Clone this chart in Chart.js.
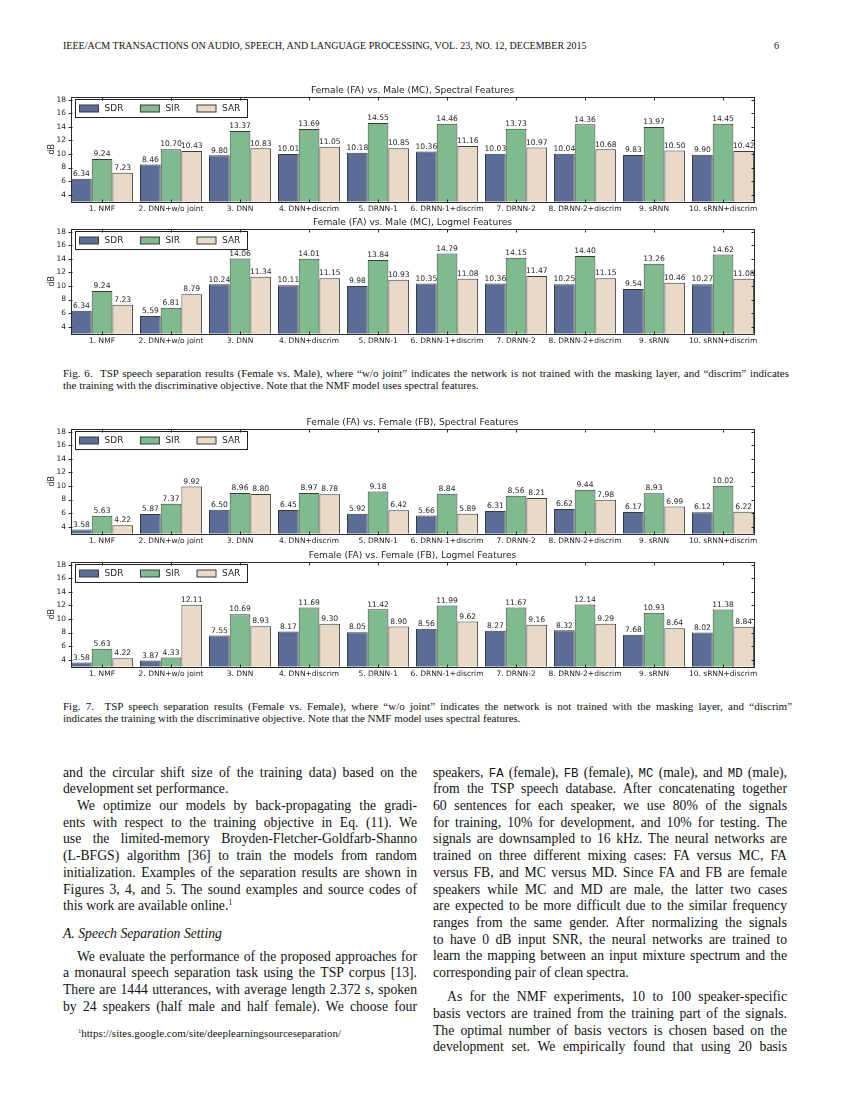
<!DOCTYPE html>
<html><head><meta charset="utf-8">
<script src="https://cdn.jsdelivr.net/npm/chart.js@4.4.0/dist/chart.umd.min.js"></script>
<style>
html,body{margin:0;padding:0;background:#fff;}
body{width:850px;height:1100px;position:relative;overflow:hidden;font-family:"Liberation Serif","Times New Roman",serif;color:#111;}
canvas.cv{position:absolute;left:30px;}
.ln{position:absolute;white-space:nowrap;line-height:16.7px;font-size:13.7px;}
.cap{position:absolute;white-space:nowrap;line-height:12px;font-size:11px;}
.mono{font-family:"Liberation Mono","DejaVu Sans Mono",monospace;font-size:12.4px;}
sup{font-size:0.6em;line-height:0;vertical-align:0.6em;}
</style>
</head><body>

<div id="hdr" style="position:absolute;left:63px;top:40px;font-size:8.4px;line-height:12px;white-space:nowrap;"><span>IEEE/ACM TRANSACTIONS ON AUDIO, SPEECH, AND LANGUAGE PROCESSING, VOL. 23, NO. 12, DECEMBER 2015</span></div>
<div style="position:absolute;left:774px;top:40px;font-size:10px;line-height:12px;">6</div>

<canvas id="c1" class="cv" width="740" height="131" style="top:85.3px"></canvas>
<canvas id="c2" class="cv" width="740" height="131" style="top:217.3px"></canvas>
<div class="cap j" data-w="724" style="left:63px;top:367px;"><span>Fig. 6.&nbsp;&nbsp;TSP speech separation results (Female vs. Male), where “w/o joint” indicates the network is not trained with the masking layer, and “discrim” indicates</span></div>
<div class="cap" style="left:63px;top:379px;"><span>the training with the discriminative objective. Note that the NMF model uses spectral features.</span></div>

<canvas id="c3" class="cv" width="740" height="131" style="top:417.3px"></canvas>
<canvas id="c4" class="cv" width="740" height="131" style="top:550.4px"></canvas>
<div class="cap j" data-w="724" style="left:63px;top:700px;"><span>Fig. 7.&nbsp;&nbsp;TSP speech separation results (Female vs. Female), where “w/o joint” indicates the network is not trained with the masking layer, and “discrim”</span></div>
<div class="cap" style="left:63px;top:712px;"><span>indicates the training with the discriminative objective. Note that the NMF model uses spectral features.</span></div>

<!-- left column -->
<div class="ln j" data-w="354" style="left:63px;top:764.6px;"><span>and the circular shift size of the training data) based on the</span></div>
<div class="ln" style="left:63px;top:781.3px;"><span>development set performance.</span></div>
<div class="ln j" data-w="340" style="left:77px;top:798px;"><span>We optimize our models by back-propagating the gradi-</span></div>
<div class="ln j" data-w="354" style="left:63px;top:814.7px;"><span>ents with respect to the training objective in Eq. (11). We</span></div>
<div class="ln j" data-w="354" style="left:63px;top:831.4px;"><span>use the limited-memory Broyden-Fletcher-Goldfarb-Shanno</span></div>
<div class="ln j" data-w="354" style="left:63px;top:848.1px;"><span>(L-BFGS) algorithm [36] to train the models from random</span></div>
<div class="ln j" data-w="354" style="left:63px;top:864.8px;"><span>initialization. Examples of the separation results are shown in</span></div>
<div class="ln j" data-w="354" style="left:63px;top:881.5px;"><span>Figures 3, 4, and 5. The sound examples and source codes of</span></div>
<div class="ln" style="left:63px;top:898.2px;"><span>this work are available online.<sup>1</sup></span></div>
<div class="ln" style="left:63px;top:925.6px;"><span><i>A. Speech Separation Setting</i></span></div>
<div class="ln j" data-w="340" style="left:77px;top:948.6px;"><span>We evaluate the performance of the proposed approaches for</span></div>
<div class="ln j" data-w="354" style="left:63px;top:965.3px;"><span>a monaural speech separation task using the TSP corpus [13].</span></div>
<div class="ln j" data-w="354" style="left:63px;top:982px;"><span>There are 1444 utterances, with average length 2.372 s, spoken</span></div>
<div class="ln j" data-w="354" style="left:63px;top:998.7px;"><span>by 24 speakers (half male and half female). We choose four</span></div>
<div class="cap" style="left:78px;top:1027px;font-size:11px;"><span><sup>1</sup>https://sites.google.com/site/deeplearningsourceseparation/</span></div>

<!-- right column -->
<div class="ln j" data-w="354" style="left:433px;top:764.6px;"><span>speakers, <span class="mono">FA</span> (female), <span class="mono">FB</span> (female), <span class="mono">MC</span> (male), and <span class="mono">MD</span> (male),</span></div>
<div class="ln j" data-w="354" style="left:433px;top:781.3px;"><span>from the TSP speech database. After concatenating together</span></div>
<div class="ln j" data-w="354" style="left:433px;top:798px;"><span>60 sentences for each speaker, we use 80% of the signals</span></div>
<div class="ln j" data-w="354" style="left:433px;top:814.7px;"><span>for training, 10% for development, and 10% for testing. The</span></div>
<div class="ln j" data-w="354" style="left:433px;top:831.4px;"><span>signals are downsampled to 16 kHz. The neural networks are</span></div>
<div class="ln j" data-w="354" style="left:433px;top:848.1px;"><span>trained on three different mixing cases: FA versus MC, FA</span></div>
<div class="ln j" data-w="354" style="left:433px;top:864.8px;"><span>versus FB, and MC versus MD. Since FA and FB are female</span></div>
<div class="ln j" data-w="354" style="left:433px;top:881.5px;"><span>speakers while MC and MD are male, the latter two cases</span></div>
<div class="ln j" data-w="354" style="left:433px;top:898.2px;"><span>are expected to be more difficult due to the similar frequency</span></div>
<div class="ln j" data-w="354" style="left:433px;top:914.9px;"><span>ranges from the same gender. After normalizing the signals</span></div>
<div class="ln j" data-w="354" style="left:433px;top:931.6px;"><span>to have 0 dB input SNR, the neural networks are trained to</span></div>
<div class="ln j" data-w="354" style="left:433px;top:948.3px;"><span>learn the mapping between an input mixture spectrum and the</span></div>
<div class="ln" style="left:433px;top:965px;"><span>corresponding pair of clean spectra.</span></div>
<div class="ln j" data-w="340" style="left:447px;top:989.3px;"><span>As for the NMF experiments, 10 to 100 speaker-specific</span></div>
<div class="ln j" data-w="354" style="left:433px;top:1006px;"><span>basis vectors are trained from the training part of the signals.</span></div>
<div class="ln j" data-w="354" style="left:433px;top:1022.7px;"><span>The optimal number of basis vectors is chosen based on the</span></div>
<div class="ln j" data-w="354" style="left:433px;top:1039.4px;"><span>development set. We empirically found that using 20 basis</span></div>

<script>
// ---------------- data ----------------
const categories = ['1. NMF','2. DNN+w/o joint','3. DNN','4. DNN+discrim','5. DRNN-1','6. DRNN-1+discrim','7. DRNN-2','8. DRNN-2+discrim','9. sRNN','10. sRNN+discrim'];
const seriesNames = ['SDR','SIR','SAR'];
const yTicks = [4,6,8,10,12,14,16,18];

const fmSpecTitle = 'Female (FA) vs. Male (MC), Spectral Features';
const fmSpecSDR = [6.34, 8.46, 9.80, 10.01, 10.18, 10.36, 10.03, 10.04, 9.83, 9.90];
const fmSpecSIR = [9.24, 10.70, 13.37, 13.69, 14.55, 14.46, 13.73, 14.36, 13.97, 14.45];
const fmSpecSAR = [7.23, 10.43, 10.83, 11.05, 10.85, 11.16, 10.97, 10.68, 10.50, 10.42];

const fmLogTitle = 'Female (FA) vs. Male (MC), Logmel Features';
const fmLogSDR = [6.34, 5.59, 10.24, 10.11, 9.98, 10.35, 10.36, 10.25, 9.54, 10.27];
const fmLogSIR = [9.24, 6.81, 14.06, 14.01, 13.84, 14.79, 14.15, 14.40, 13.26, 14.62];
const fmLogSAR = [7.23, 8.79, 11.34, 11.15, 10.93, 11.08, 11.47, 11.15, 10.46, 11.08];

const ffSpecTitle = 'Female (FA) vs. Female (FB), Spectral Features';
const ffSpecSDR = [3.58, 5.87, 6.50, 6.45, 5.92, 5.66, 6.31, 6.62, 6.17, 6.12];
const ffSpecSIR = [5.63, 7.37, 8.96, 8.97, 9.18, 8.84, 8.56, 9.44, 8.93, 10.02];
const ffSpecSAR = [4.22, 9.92, 8.80, 8.78, 6.42, 5.89, 8.21, 7.98, 6.99, 6.22];

const ffLogTitle = 'Female (FA) vs. Female (FB), Logmel Features';
const ffLogSDR = [3.58, 3.87, 7.55, 8.17, 8.05, 8.56, 8.27, 8.32, 7.68, 8.02];
const ffLogSIR = [5.63, 4.33, 10.69, 11.69, 11.42, 11.99, 11.67, 12.14, 10.93, 11.38];
const ffLogSAR = [4.22, 12.11, 8.93, 9.30, 8.90, 9.62, 9.16, 9.29, 8.64, 8.84];

// ---------------- style ----------------
const COLORS = ['#5a6d96', '#7fbb8d', '#e9d9c7'];
const EDGE = '#3a3a3a';
const INK = '#1e1e1e';
const FONT = '"DejaVu Sans", sans-serif';
const CAT_PCT = 0.9;

// plot frame: matplotlib-style axes box that starts at the left edge of the
// first bar group and ends at the right edge of the last one
function frameBox(chart) {
  const a = chart.chartArea;
  const inset = (a.right - a.left) / chart.data.labels.length * (1 - CAT_PCT) / 2;
  return {left: a.left + inset, right: a.right - inset, top: a.top, bottom: a.bottom};
}

const framePlugin = {
  id: 'frame',
  afterDraw(chart) {
    const {ctx, scales} = chart;
    const f = frameBox(chart);
    ctx.save();
    ctx.strokeStyle = '#2a2a2a';
    ctx.lineWidth = 1;
    const L = Math.round(f.left) + 0.5, R = Math.round(f.right) + 0.5, T = Math.round(f.top) + 0.5, B = Math.round(f.bottom) + 0.5;
    ctx.strokeRect(L, T, R - L, B - T);
    ctx.beginPath();
    scales.y.ticks.forEach(t => {
      const y = Math.round(scales.y.getPixelForValue(t.value)) + 0.5;
      ctx.moveTo(L - 3, y); ctx.lineTo(L + 1, y);
      ctx.moveTo(R - 3, y); ctx.lineTo(R, y);
    });
    scales.x.ticks.forEach((t, i) => {
      const x = Math.round(scales.x.getPixelForTick(i)) + 0.5;
      ctx.moveTo(x, T); ctx.lineTo(x, T + 3);
      ctx.moveTo(x, B); ctx.lineTo(x, B - 3);
    });
    ctx.stroke();
    ctx.restore();
  }
};

const valueLabels = {
  id: 'valueLabels',
  afterDatasetsDraw(chart) {
    const ctx = chart.ctx;
    ctx.save();
    ctx.font = '7.6px ' + FONT;
    ctx.fillStyle = INK;
    ctx.textAlign = 'center';
    ctx.textBaseline = 'bottom';
    chart.data.datasets.forEach((ds, i) => {
      chart.getDatasetMeta(i).data.forEach((bar, j) => {
        ctx.fillText(ds.data[j].toFixed(2), bar.x, bar.y - 1);
      });
    });
    ctx.restore();
  }
};

const boxLegend = {
  id: 'boxLegend',
  afterDatasetsDraw(chart) {
    const ctx = chart.ctx;
    const f = frameBox(chart);
    const x0 = Math.round(f.left) + 4.5, y0 = Math.round(f.top) + 2.5, w = 172, h = 18;
    ctx.save();
    ctx.fillStyle = '#fff';
    ctx.fillRect(x0, y0, w, h);
    ctx.strokeStyle = '#222';
    ctx.lineWidth = 1;
    ctx.strokeRect(x0, y0, w, h);
    ctx.font = '9px ' + FONT;
    ctx.textBaseline = 'middle';
    let x = x0 + 4;
    const cy = y0 + h / 2;
    chart.data.datasets.forEach(ds => {
      ctx.fillStyle = ds.backgroundColor;
      ctx.fillRect(x, cy - 3.5, 19, 7);
      ctx.strokeStyle = EDGE;
      ctx.strokeRect(x, cy - 3.5, 19, 7);
      ctx.fillStyle = INK;
      ctx.fillText(ds.label, x + 25, cy + 0.5);
      x += 25 + ctx.measureText(ds.label).width + 17;
    });
    ctx.restore();
  }
};

function makeChart(id, title, sdr, sir, sar) {
  const series = [sdr, sir, sar];
  return new Chart(document.getElementById(id), {
    type: 'bar',
    data: {
      labels: categories,
      datasets: series.map((d, k) => ({
        label: seriesNames[k], data: d,
        backgroundColor: COLORS[k], borderColor: EDGE, borderWidth: 1
      }))
    },
    options: {
      responsive: false, animation: false, devicePixelRatio: 1,
      layout: {padding: {left: 0, right: 12.45, top: 0, bottom: 0}},
      datasets: {bar: {categoryPercentage: CAT_PCT, barPercentage: 1}},
      plugins: {
        legend: {display: false},
        tooltip: {enabled: false},
        title: {
          display: true, text: title, fullSize: false, color: INK,
          font: {family: FONT, size: 9.1, weight: 'normal', lineHeight: 1.2},
          padding: {top: 0, bottom: 1}
        }
      },
      scales: {
        x: {
          grid: {display: false, drawTicks: false}, border: {display: false},
          ticks: {font: {family: FONT, size: 7.5}, color: INK, padding: 3, maxRotation: 0, autoSkip: false},
          afterFit(s) { s.height = 14.5; }
        },
        y: {
          min: 3, max: 18.4,
          grid: {display: false, drawTicks: false}, border: {display: false},
          ticks: {font: {family: FONT, size: 7.5}, color: INK, padding: 1.5},
          title: {display: true, text: 'dB', color: INK, font: {family: FONT, size: 8, lineHeight: 1.2}, padding: {top: 17, bottom: 0}},
          afterBuildTicks(s) { s.ticks = yTicks.map(v => ({value: v})); },
          afterFit(s) { s.width = 37.55; }
        }
      }
    },
    plugins: [framePlugin, valueLabels, boxLegend]
  });
}

makeChart('c1', fmSpecTitle, fmSpecSDR, fmSpecSIR, fmSpecSAR);
makeChart('c2', fmLogTitle, fmLogSDR, fmLogSIR, fmLogSAR);
makeChart('c3', ffSpecTitle, ffSpecSDR, ffSpecSIR, ffSpecSAR);
makeChart('c4', ffLogTitle, ffLogSDR, ffLogSIR, ffLogSAR);

// ---------------- text justification ----------------
document.querySelectorAll('.j').forEach(el => {
  const span = el.firstElementChild;
  const target = parseFloat(el.dataset.w);
  const w = span.getBoundingClientRect().width;
  const n = (span.textContent.match(/ /g) || []).length;
  if (n > 0) span.style.wordSpacing = ((target - w) / n) + 'px';
});
(function () {
  const span = document.querySelector('#hdr span');
  const w = span.getBoundingClientRect().width;
  const fs = 8.4 * 522 / w;
  document.getElementById('hdr').style.fontSize = fs + 'px';
})();
</script>
</body></html>
